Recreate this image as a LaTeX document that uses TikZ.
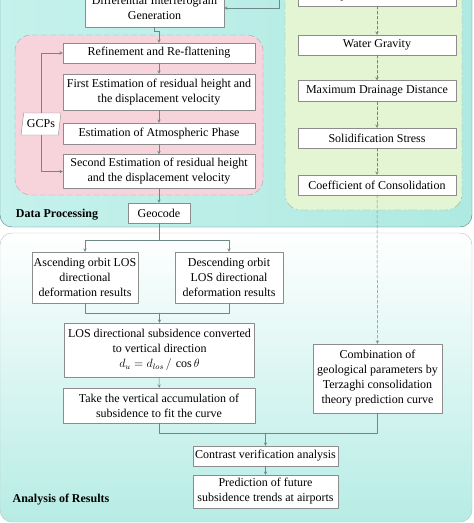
\documentclass[tikz,border=0pt]{standalone}
\usepackage{fontspec}
\setmainfont{Liberation Serif}
\usetikzlibrary{shapes.geometric}
\definecolor{topleft}{HTML}{C6F1EC}
\definecolor{topright}{HTML}{AEEAE2}
\definecolor{pinkbg}{HTML}{F7D3DB}
\definecolor{greenbg}{HTML}{E4F5D4}
\definecolor{greenline}{HTML}{A3AD7C}
\definecolor{boxline}{HTML}{8C8C8C}
\definecolor{linkc}{HTML}{6E8888}
\begin{document}
\begin{tikzpicture}[x=1pt,y=-1pt,font=\fontsize{12}{15}\selectfont,line cap=round,line join=round,>=stealth,
	box/.style={draw=boxline,fill=white,align=center,inner sep=1pt},
	link/.style={->,draw=linkc,line width=0.5pt},
	dlink/.style={->,draw=linkc,line width=0.5pt,dash pattern=on 3pt off 2pt},
	title/.style={font=\fontsize{12}{14}\selectfont\bfseries}]
	\clip (0,0) rectangle (474,523);
	\draw[draw=gray!60!teal,left color=topleft,right color=topright,rounded corners=12pt] (0,-30) rectangle (472,227);
	\draw[draw=gray!50,top color=white,bottom color=topright!90,rounded corners=12pt] (0,233) rectangle (472,522);
	\draw[draw=gray!70,fill=pinkbg,dash pattern=on 6pt off 3pt,rounded corners=16pt] (15,35) rectangle (263,195);
	\draw[draw=greenline,fill=greenbg,dash pattern=on 8pt off 3pt on 1.5pt off 3pt,rounded corners=16pt] (285,-30) rectangle (462,210);
	\node[box,minimum width=139pt,minimum height=38pt] (diff) at (154.5,8) {Differential Interferogram\\Generation};
	\node[box,minimum width=192pt,minimum height=20pt] (refine) at (159,53) {Refinement and Re-flattening};
	\node[box,minimum width=192pt,minimum height=36pt] (first) at (159,92) {First Estimation of residual height and\\the displacement velocity};
	\node[box,minimum width=192pt,minimum height=21pt] (atmo) at (159,133.5) {Estimation of Atmospheric Phase};
	\node[box,minimum width=192pt,minimum height=34pt] (second) at (159,171.5) {Second Estimation of residual height\\and the displacement velocity};
	\node[box,trapezium,trapezium left angle=77,trapezium right angle=103,trapezium stretches=true,minimum width=40pt,minimum height=22pt] (gcps) at (41,124) {GCPs};
	\node[box,minimum width=62pt,minimum height=20pt] (geocode) at (159,213) {Geocode};
	\node[title] (dp) at (57,215) {Data Processing};
	\node[box,minimum width=158pt,minimum height=20pt] (comp) at (377,-4) {Compression Coefficient};
	\node[box,minimum width=158pt,minimum height=20pt] (water) at (377,45) {Water Gravity};
	\node[box,minimum width=158pt,minimum height=21pt] (maxd) at (377,91) {Maximum Drainage Distance};
	\node[box,minimum width=158pt,minimum height=20pt] (solid) at (377,138) {Solidification Stress};
	\node[box,minimum width=158pt,minimum height=20pt] (coef) at (377,185) {Coefficient of Consolidation};
	\node[box,minimum width=106pt,minimum height=51pt] (asc) at (85,277.5) {Ascending orbit LOS\\directional\\deformation results};
	\node[box,minimum width=108pt,minimum height=51pt] (desc) at (229,277.5) {Descending orbit\\LOS directional\\deformation results};
	\node[box,minimum width=190pt,minimum height=54pt] (los) at (159.5,350) {LOS directional subsidence converted\\to vertical direction\\$d_u = d_{los}\,/\,\cos\theta$};
	\node[box,minimum width=192pt,minimum height=35pt] (take) at (159,405.5) {Take the vertical accumulation of\\subsidence to fit the curve};
	\node[box,minimum width=129pt,minimum height=69pt] (comb) at (377.5,378.5) {Combination of\\geological parameters by\\Terzaghi consolidation\\theory prediction curve};
	\node[box,minimum width=145pt,minimum height=20pt] (contrast) at (265.5,456) {Contrast verification analysis};
	\node[box,minimum width=145pt,minimum height=33pt] (pred) at (265.5,491.5) {Prediction of future\\subsidence trends at airports};
	\node[title] (ar) at (61,500) {Analysis of Results};
	\coordinate (src) at (279,-30);
	\coordinate (split) at (159,240);
	\coordinate (join) at (159.5,313);
	\coordinate (merge) at (265.5,433);
	\draw[link] (src) |- (diff.east);
	\draw[link] (diff.south) -- ++(0,4) -| (refine.north);
	\draw[link] (refine) -- (first);
	\draw[link] (first) -- (atmo);
	\draw[link] (atmo) -- (second);
	\draw[link] (second) -- (geocode);
	\draw[link] (gcps.north) |- (refine.west);
	\draw[link] (gcps.south) |- (second.west);
	\draw[dlink] (comp) -- (water);
	\draw[dlink] (water) -- (maxd);
	\draw[dlink] (maxd) -- (solid);
	\draw[dlink] (solid) -- (coef);
	\draw[dlink] (coef) -- (comb);
	\draw[draw=linkc,line width=0.5pt] (geocode) -- (split);
	\draw[link] (split) -| (asc);
	\draw[link] (split) -| (desc);
	\draw[draw=linkc,line width=0.5pt] (asc) |- (join);
	\draw[draw=linkc,line width=0.5pt] (desc) |- (join);
	\draw[link] (join) -- (los);
	\draw[link] (los) -- (take);
	\draw[draw=linkc,line width=0.5pt] (take) |- (merge);
	\draw[draw=linkc,line width=0.5pt] (comb) |- (merge);
	\draw[link] (merge) -- (contrast);
	\draw[link] (contrast) -- (pred);
\end{tikzpicture}
\end{document}
